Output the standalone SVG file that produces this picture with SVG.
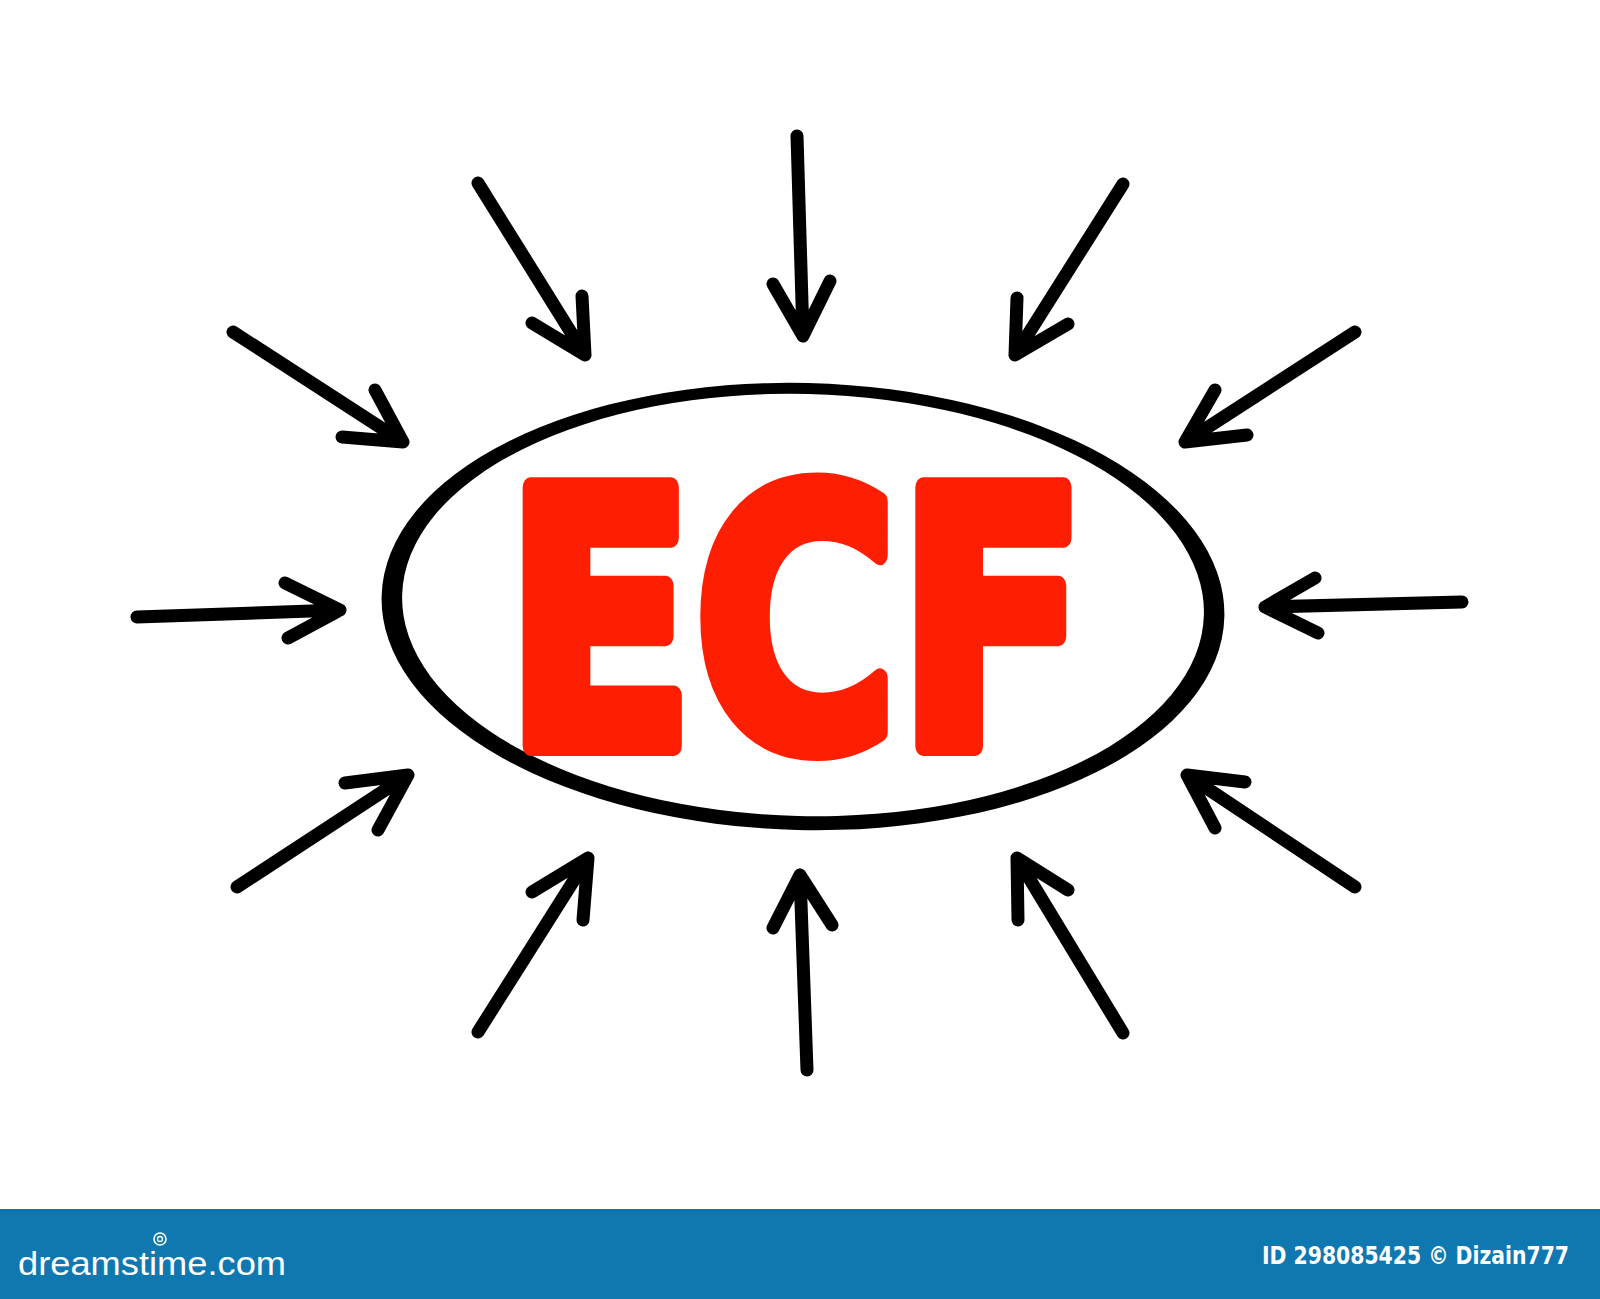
<svg xmlns="http://www.w3.org/2000/svg" width="1600" height="1299" viewBox="0 0 1600 1299">
  <style>
    .arr { fill: none; stroke: #000; stroke-width: 13; stroke-linecap: round; stroke-linejoin: round; }
    .title { font-family: "DejaVu Sans", "Liberation Sans", sans-serif; font-weight: bold; fill: #FE1E02; stroke: #FE1E02; stroke-width: 20; stroke-linejoin: round; }
    .foot { fill: #FFFFFF; }
  </style>
  <rect x="0" y="0" width="1600" height="1299" fill="#FFFFFF"/>

  <g id="connectors">
    <!-- top center -->
    <path class="arr" d="M797 136 L803 336 M773 284 L803 336 L830 281"/>
    <!-- top left-center -->
    <path class="arr" d="M478 183 L585 355 M532 323 L585 355 L582 296"/>
    <!-- top left -->
    <path class="arr" d="M233 332 L403 442 M375 390 L403 442 L342 437"/>
    <!-- left -->
    <path class="arr" d="M137 617 L340 610 M285 583 L340 610 L288 638"/>
    <!-- bottom left -->
    <path class="arr" d="M237 887 L408 775 M345 783 L408 775 L378 830"/>
    <!-- bottom left-center -->
    <path class="arr" d="M478 1032 L588 858 M532 892 L588 858 L583 920"/>
    <!-- bottom center -->
    <path class="arr" d="M807 1070 L800 875 M773 928 L800 875 L832 925"/>
    <!-- bottom right-center -->
    <path class="arr" d="M1123 1033 L1017 858 M1018 920 L1017 858 L1068 890"/>
    <!-- bottom right -->
    <path class="arr" d="M1355 887 L1187 775 M1245 782 L1187 775 L1215 828"/>
    <!-- right -->
    <path class="arr" d="M1462 602 L1265 607 M1315 578 L1265 607 L1318 633"/>
    <!-- top right -->
    <path class="arr" d="M1355 332 L1185 442 M1215 390 L1185 442 L1247 435"/>
    <!-- top right-center -->
    <path class="arr" d="M1123 184 L1015 355 M1017 298 L1015 355 L1068 324"/>
  </g>

  <g id="ellipse-node">
    <path fill="#000" fill-rule="evenodd" transform="rotate(1.4 803 606)"
      d="M381.5 606.5 A421.5 223.5 0 1 0 1224.5 606.5 A421.5 223.5 0 1 0 381.5 606.5 Z
         M402 605 A401 211 0 1 0 1204 605 A401 211 0 1 0 402 605 Z"/>
    <text class="title" x="505" y="746" font-size="355" textLength="582" lengthAdjust="spacingAndGlyphs">ECF</text>
  </g>

  <g id="footer">
    <rect x="0" y="1209" width="1600" height="90" fill="#0F78B0"/>
    <rect x="0" y="1209" width="1600" height="3" fill="#0D72A8"/>
    <text class="foot" x="18" y="1275" font-family="Liberation Sans, Arial, sans-serif" font-size="34" textLength="268" lengthAdjust="spacingAndGlyphs">dreamstime.com</text>
    <circle cx="160" cy="1239" r="6" fill="none" stroke="#FFFFFF" stroke-width="1.6"/>
    <circle cx="160" cy="1239" r="2.5" fill="none" stroke="#FFFFFF" stroke-width="1.3"/>
    <text class="foot" x="1262" y="1264" font-family="DejaVu Sans Condensed, DejaVu Sans, sans-serif" font-weight="bold" font-size="24" textLength="307" lengthAdjust="spacingAndGlyphs">ID 298085425 © Dizain777</text>
  </g>
</svg>
